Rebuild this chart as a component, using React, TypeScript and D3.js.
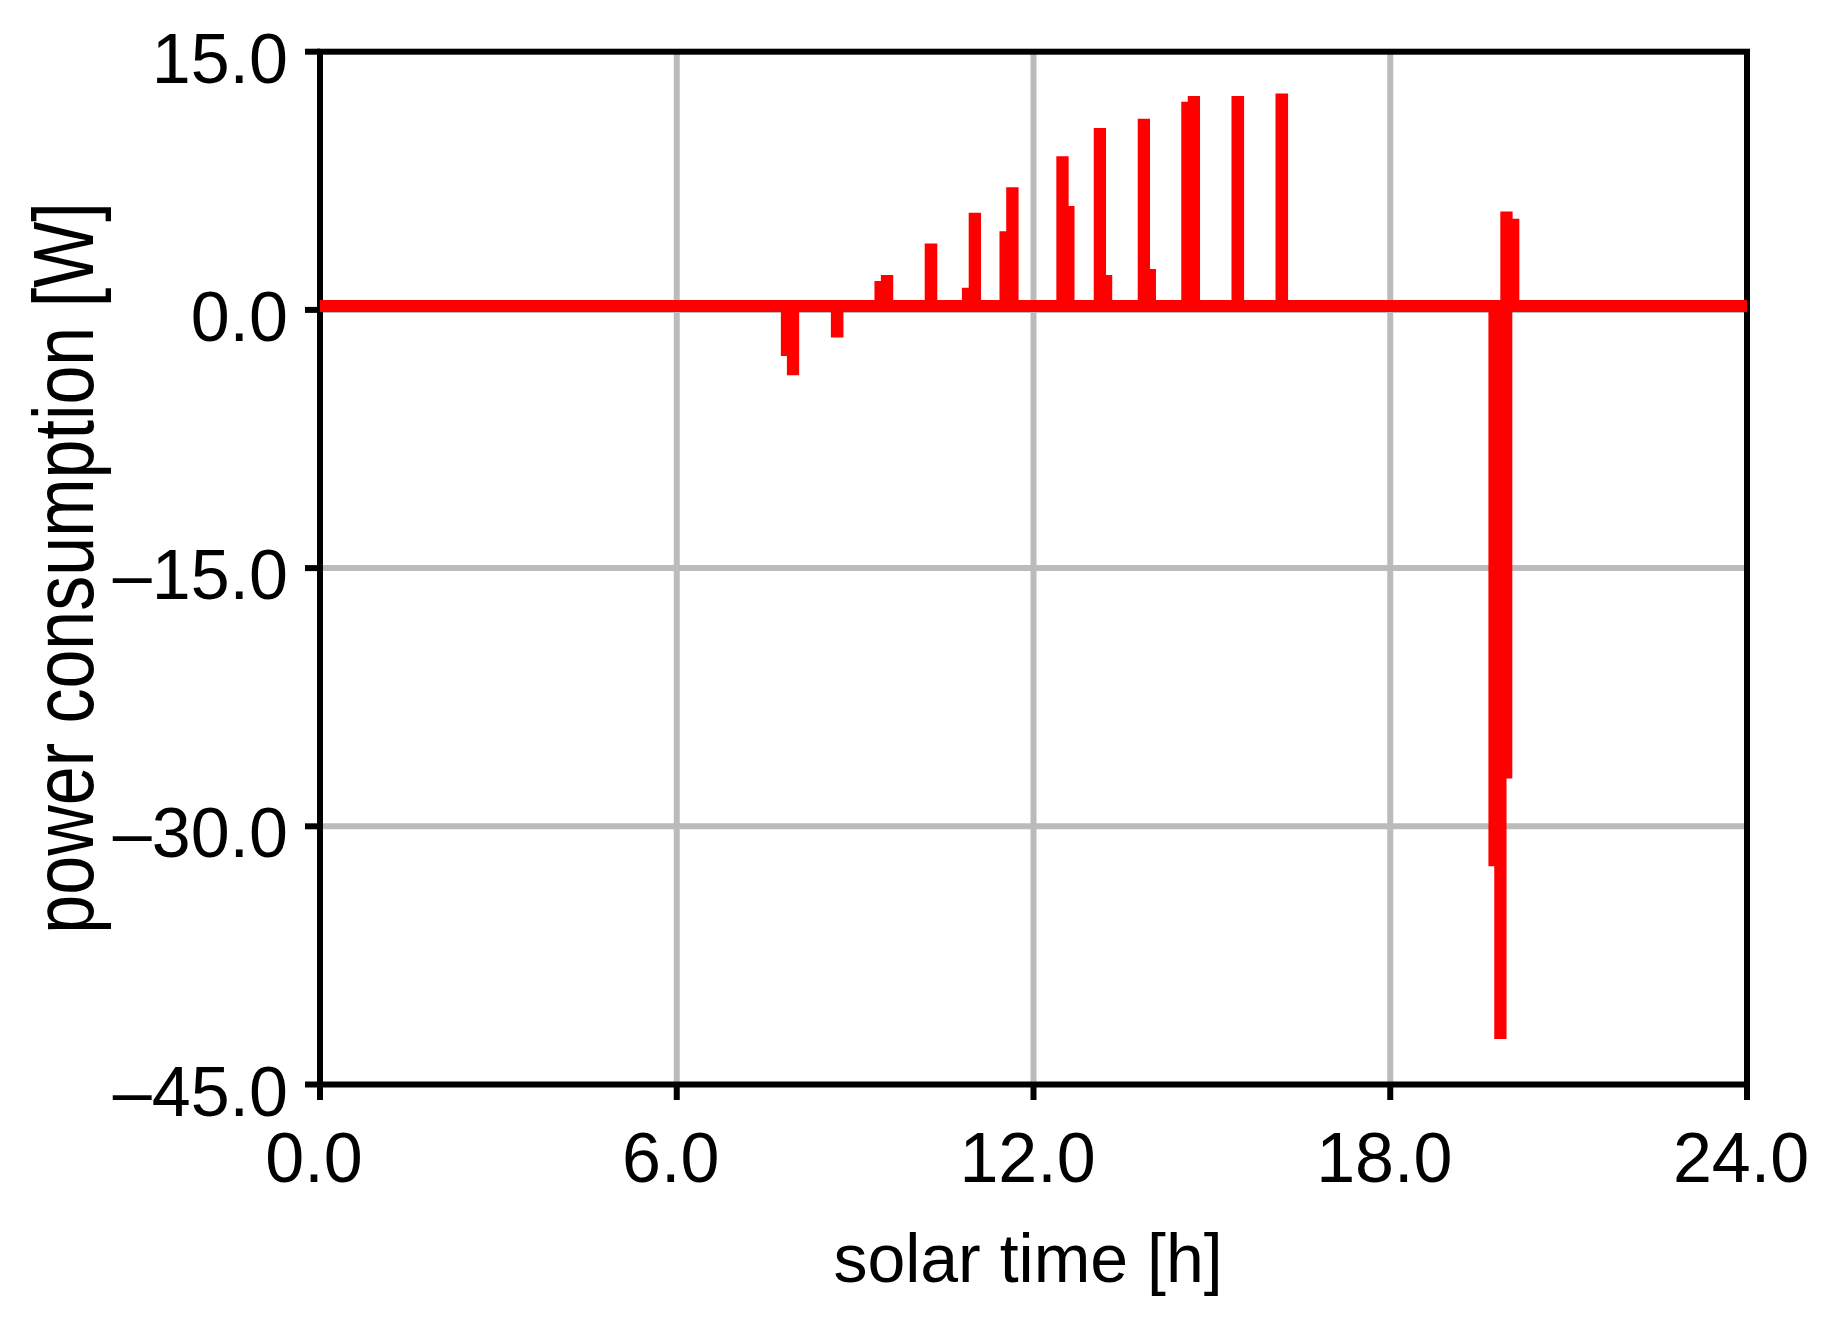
import React from "react";
import * as d3 from "d3";

// power consumption over a day, step series (solar time [h], power [kW])
const STEP_TIME = [
  0,
  7.852, 7.953, 7.958,
  8.693, 8.703,
  9.426, 9.534, 9.54,
  10.271, 10.281,
  10.897, 11.011, 11.017,
  11.529, 11.642, 11.648,
  12.485, 12.49, 12.589,
  13.114, 13.119, 13.223,
  13.854, 13.859, 13.959,
  14.586, 14.695, 14.7,
  15.431, 15.441,
  16.171, 16.181,
  19.752, 19.85, 19.855, 19.952, 19.957, 20.07,
  24,
];
const STEP_POWER = [
  0,
  -2.56, -3.68, 0,
  -1.49, 0,
  1.1, 1.45, 0,
  3.27, 0,
  0.71, 5.07, 0,
  3.99, 6.55, 0,
  8.35, 5.46, 0,
  9.99, 1.45, 0,
  10.53, 1.8, 0,
  11.51, 11.85, 0,
  11.85, 0,
  11.99, 0,
  -32.2, -42.24, -27.1, 5.14, 4.71, 0,
  0,
];

const X_TICKS = [0, 6, 12, 18, 24];
const X_TICK_LABELS = ["0.0", "6.0", "12.0", "18.0", "24.0"];
const Y_TICKS = [15, 0, -15, -30, -45];
const Y_TICK_LABELS = ["15.0", "0.0", "–15.0", "–30.0", "–45.0"];

const X_TITLE = "solar time [h]";
const Y_TITLE = "power consumption [W]";

const W = 1825;
const H = 1326;
const LEFT = 320;
const RIGHT = 1747;
const TOP = 51.7;
const BOTTOM = 1084.5;
const FONT = '"Liberation Sans", Arial, sans-serif';

export default function App() {
  const x = d3.scaleLinear().domain([0, 24]).range([LEFT, RIGHT]);
  const y = d3.scaleLinear().domain([-45, 15]).range([BOTTOM, TOP]);

  const points = STEP_TIME.map((t, i) => ({ t, v: STEP_POWER[i] }));
  const line = d3
    .line<{ t: number; v: number }>()
    .x((d) => x(d.t))
    .y((d) => y(d.v))
    .curve(d3.curveStepAfter);

  return (
    <svg
      width={W}
      height={H}
      style={{ position: "absolute", left: 0, top: 0, background: "#fff" }}
    >
      <rect x={0} y={0} width={W} height={H} fill="#fff" />

      {/* grid */}
      {Y_TICKS.filter((v) => v !== 15 && v !== -45).map((v) => (
        <line
          key={`gy${v}`}
          x1={x(0)}
          x2={x(24)}
          y1={y(v)}
          y2={y(v)}
          stroke="#bbbbbb"
          strokeWidth={6}
        />
      ))}
      {X_TICKS.filter((t) => t !== 0 && t !== 24).map((t) => (
        <line
          key={`gx${t}`}
          x1={x(t)}
          x2={x(t)}
          y1={y(15)}
          y2={y(-45)}
          stroke="#bbbbbb"
          strokeWidth={6}
        />
      ))}

      {/* frame + ticks */}
      <rect
        x={x(0)}
        y={y(15)}
        width={x(24) - x(0)}
        height={y(-45) - y(15)}
        fill="none"
        stroke="#000"
        strokeWidth={6}
      />
      {Y_TICKS.map((v) => (
        <line key={`ty${v}`} x1={x(0) - 15} x2={x(0)} y1={y(v)} y2={y(v)} stroke="#000" strokeWidth={6} />
      ))}
      {X_TICKS.map((t) => (
        <line key={`tx${t}`} x1={x(t)} x2={x(t)} y1={y(-45)} y2={y(-45) + 15.5} stroke="#000" strokeWidth={6} />
      ))}

      {/* series */}
      <g transform="translate(0,-4)">
        <path
          d={line(points) ?? ""}
          fill="none"
          stroke="#ff0000"
          strokeWidth={12}
          strokeLinejoin="miter"
          strokeMiterlimit={4}
          strokeLinecap="butt"
        />
      </g>

      {/* tick labels */}
      {Y_TICKS.map((v, i) => (
        <text
          key={`ly${v}`}
          x={288}
          y={y(v) + 31}
          textAnchor="end"
          fontFamily={FONT}
          fontSize={70}
          fill="#000"
        >
          {Y_TICK_LABELS[i]}
        </text>
      ))}
      {X_TICKS.map((t, i) => (
        <text
          key={`lx${t}`}
          x={x(t) - 6}
          y={1182}
          textAnchor="middle"
          fontFamily={FONT}
          fontSize={70}
          fill="#000"
        >
          {X_TICK_LABELS[i]}
        </text>
      ))}

      {/* axis titles */}
      <text
        x={1028}
        y={1282}
        textAnchor="middle"
        fontFamily={FONT}
        fontSize={68}
        fill="#000"
      >
        {X_TITLE}
      </text>
      <text
        transform="translate(93,568) rotate(-90) scale(1,1.22)"
        textAnchor="middle"
        fontFamily={FONT}
        fontSize={70}
        fill="#000"
      >
        {Y_TITLE}
      </text>
    </svg>
  );
}
